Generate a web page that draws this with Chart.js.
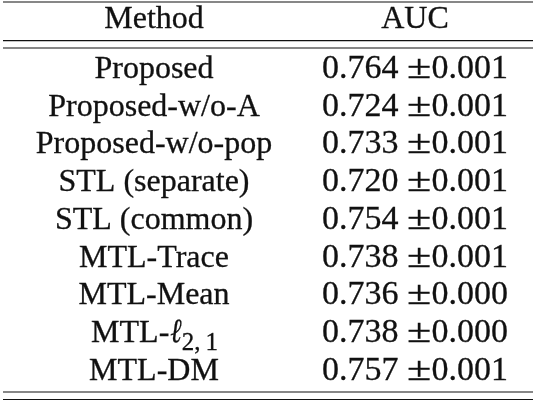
<!DOCTYPE html>
<html>
<head>
<meta charset="utf-8">
<script src="https://cdn.jsdelivr.net/npm/chart.js@4.4.1/dist/chart.umd.min.js"></script>
<style>
html,body{margin:0;padding:0;background:#fff;}
#wrap{width:537px;height:405px;position:relative;}
</style>
</head>
<body>
<div id="wrap"><canvas id="c"></canvas></div>
<script>
// ---- data ----
const headers = ["Method", "AUC"];
const methods = ["Proposed", "Proposed-w/o-A", "Proposed-w/o-pop", "STL (separate)", "STL (common)", "MTL-Trace", "MTL-Mean", "MTL-\u2113_{2,\u20091}", "MTL-DM"];
const aucMean = [0.764, 0.724, 0.733, 0.720, 0.754, 0.738, 0.736, 0.738, 0.757];
const aucStd  = [0.001, 0.001, 0.001, 0.001, 0.001, 0.001, 0.000, 0.000, 0.001];

// ---- layout ----
const COLX = [154, 415];
const HEADER_Y = -1.3245;
const RULES = [-2.013, -0.988, -0.795, 8.318, 8.517];
const RULE_X = [3, 533];
const FAMILY = "'Liberation Serif', 'Times New Roman', serif";
const FONT = "32px " + FAMILY;
const NUMFONT = "34px " + FAMILY;
const INK = "#111";

function ink(ctx, t, x, y) {
  ctx.fillText(t, x, y);
  ctx.strokeText(t, x, y);
}

function drawText(ctx, text, x, y) {
  ctx.fillStyle = INK;
  ctx.strokeStyle = INK;
  ctx.lineWidth = 0.3;
  ctx.textBaseline = "alphabetic";
  const m = text.match(/^(.*)\u2113_\{(.*)\}$/);
  if (!m) {
    ctx.font = FONT;
    ctx.textAlign = "center";
    ink(ctx, text, x, y);
    return;
  }
  const pre = m[1], sub = m[2];
  const fEll = "italic 34px 'DejaVu Serif', " + FAMILY;
  const fSub = "25px " + FAMILY;
  ctx.font = FONT; const w1 = ctx.measureText(pre).width;
  ctx.font = fEll; const w2 = ctx.measureText("\u2113").width * 0.8;
  ctx.font = fSub; const w3 = ctx.measureText(sub).width;
  let sx = x - (w1 + w2 + w3) / 2;
  ctx.textAlign = "left";
  ctx.font = FONT; ink(ctx, pre, sx, y); sx += w1 + 1;
  ctx.save();
  ctx.translate(sx, y);
  ctx.scale(0.8, 1);
  ctx.font = fEll; ink(ctx, "\u2113", 0, 0);
  ctx.restore();
  sx += w2;
  ctx.font = fSub; ink(ctx, sub, sx, y + 8);
}

function drawValue(ctx, mean, std, x, y) {
  ctx.fillStyle = INK;
  ctx.strokeStyle = INK;
  ctx.lineWidth = 0.3;
  ctx.textBaseline = "alphabetic";
  ctx.textAlign = "left";
  ctx.font = NUMFONT;
  const a = mean.toFixed(3) + " ", b = std.toFixed(3);
  const wa = ctx.measureText(a).width, wb = ctx.measureText(b).width;
  const wpm = ctx.measureText("\u00B1").width * 1.3;
  let sx = x - (wa + wpm + wb) / 2;
  ink(ctx, a, sx, y); sx += wa;
  ctx.save();
  ctx.translate(sx, y);
  ctx.scale(1.3, 1);
  ink(ctx, "\u00B1", 0, 0);
  ctx.restore();
  sx += wpm;
  ink(ctx, b, sx, y);
}

const tablePlugin = {
  id: "tableText",
  afterDatasetsDraw(chart) {
    const ctx = chart.ctx;
    const xs = chart.scales.x, ys = chart.scales.y;
    ctx.save();
    ctx.strokeStyle = INK;
    ctx.lineWidth = 1.2;
    RULES.forEach(v => {
      const py = ys.getPixelForValue(v);
      ctx.beginPath();
      ctx.moveTo(xs.getPixelForValue(RULE_X[0]), py);
      ctx.lineTo(xs.getPixelForValue(RULE_X[1]), py);
      ctx.stroke();
    });
    headers.forEach((h, j) => drawText(ctx, h, xs.getPixelForValue(COLX[j]), ys.getPixelForValue(HEADER_Y)));
    const m0 = chart.getDatasetMeta(0);
    m0.data.forEach((el, i) => drawText(ctx, methods[i], el.x, el.y));
    const m1 = chart.getDatasetMeta(1);
    m1.data.forEach((el, i) => drawValue(ctx, aucMean[i], aucStd[i], el.x, el.y));
    ctx.restore();
  }
};

new Chart(document.getElementById("c"), {
  type: "scatter",
  data: {
    datasets: [
      {
        label: headers[0],
        data: methods.map((m, i) => ({ x: COLX[0], y: i })),
        pointRadius: 0, pointHoverRadius: 0
      },
      {
        label: headers[1],
        data: aucMean.map((v, i) => ({ x: COLX[1], y: i })),
        pointRadius: 0, pointHoverRadius: 0
      }
    ]
  },
  options: {
    responsive: true,
    maintainAspectRatio: false,
    animation: false,
    events: [],
    layout: { padding: 0 },
    plugins: { legend: { display: false }, tooltip: { enabled: false }, title: { display: false } },
    scales: {
      x: { type: "linear", min: 0, max: 537, display: false },
      y: { type: "linear", reverse: true, min: -2.0662, max: 8.6623, display: false }
    }
  },
  plugins: [tablePlugin]
});
</script>
</body>
</html>
